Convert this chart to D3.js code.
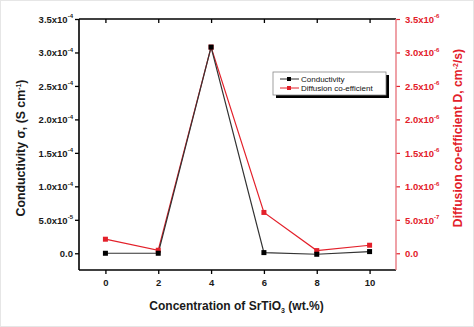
<!DOCTYPE html>
<html><head><meta charset="utf-8">
<script src="https://cdn.jsdelivr.net/npm/d3@7"></script>
<style>
body{margin:0;background:#fff;}
svg{display:block;font-family:"Liberation Sans",Arial,sans-serif;font-weight:bold;}
</style></head>
<body><svg id="c" width="474" height="327"></svg>
<script>
const xValues = [0, 2, 4, 6, 8, 10];
const conductivity = [0, 0, 3.08e-4, 1e-6, -1.5e-6, 2.5e-6];
const diffusion = [2.1e-7, 4.5e-8, 3.08e-6, 6.1e-7, 4e-8, 1.2e-7];
const xTicks = [0, 2, 4, 6, 8, 10];
const leftTicks = [0, 5e-5, 1e-4, 1.5e-4, 2e-4, 2.5e-4, 3e-4, 3.5e-4];
const rightTicks = [0, 5e-7, 1e-6, 1.5e-6, 2e-6, 2.5e-6, 3e-6, 3.5e-6];
const seriesNames = ["Conductivity", "Diffusion  co-efficient"];

const RED = "#e3202a";
const svg = d3.select("#c");
const L = 79, R = 396, T = 19, B = 270;

svg.append("rect").attr("x",0.5).attr("y",0.5).attr("width",473).attr("height",326)
  .attr("fill","none").attr("stroke","#e6e6e6");

const x = d3.scaleLinear().domain([-1, 11]).range([L, R]);
const yL = d3.scaleLinear().domain([-2.5e-5, 3.5e-4]).range([B, T]);
const yR = d3.scaleLinear().domain([-2.5e-7, 3.5e-6]).range([B, T]);

function sciLabel(sel, v) {
  sel.text(null);
  if (v === 0) { sel.text("0.0"); return; }
  const e = Math.floor(Math.log10(Math.abs(v)) + 1e-9);
  const m = v / Math.pow(10, e);
  sel.append("tspan").text(m.toFixed(1) + "x10");
  sel.append("tspan").attr("dy", -4.5).attr("font-size", 6).text(e);
}

// Left axis
const gl = svg.append("g").attr("transform", `translate(${L},0)`)
  .call(d3.axisLeft(yL).tickValues(leftTicks).tickSize(4).tickFormat(""));
gl.select(".domain").remove();
gl.selectAll(".tick line").attr("stroke","#000").attr("stroke-width",1.3);
gl.selectAll(".tick").append("text").attr("x",-6).attr("dy","0.35em")
  .attr("text-anchor","end").attr("font-size",9.5).attr("fill","#1a1a1a")
  .each(function(d){ sciLabel(d3.select(this), d); });

// Right axis
const gr = svg.append("g").attr("transform", `translate(${R},0)`)
  .call(d3.axisRight(yR).tickValues(rightTicks).tickSize(4).tickFormat(""));
gr.select(".domain").remove();
gr.selectAll(".tick line").attr("stroke",RED).attr("stroke-width",1.2);
gr.selectAll(".tick").append("text").attr("x",9).attr("dy","0.35em")
  .attr("text-anchor","start").attr("font-size",9.5).attr("fill",RED)
  .each(function(d){ sciLabel(d3.select(this), d); });

// Bottom axis
const gb = svg.append("g").attr("transform", `translate(0,${B})`)
  .call(d3.axisBottom(x).tickValues(xTicks).tickSize(4).tickFormat(d3.format("d")));
gb.select(".domain").remove();
gb.selectAll(".tick line").attr("stroke","#000").attr("stroke-width",1.3);
gb.selectAll(".tick text").attr("y",9).attr("font-size",9.5).attr("fill","#1a1a1a")
  .attr("font-family","Liberation Sans, Arial, sans-serif").attr("font-weight","bold");

// Top ticks (inward)
const gt = svg.append("g").attr("transform", `translate(0,${T})`)
  .call(d3.axisTop(x).tickValues(xTicks).tickSize(-4).tickFormat(""));
gt.select(".domain").remove();
gt.selectAll(".tick line").attr("stroke","#000").attr("stroke-width",1.3);

// Frame
svg.append("line").attr("x1",L).attr("x2",R).attr("y1",T).attr("y2",T).attr("stroke","#000").attr("stroke-width",1.6);
svg.append("line").attr("x1",L).attr("x2",R).attr("y1",B).attr("y2",B).attr("stroke","#000").attr("stroke-width",1.6);
svg.append("line").attr("x1",L).attr("x2",L).attr("y1",T).attr("y2",B).attr("stroke","#000").attr("stroke-width",1.6);
svg.append("line").attr("x1",R).attr("x2",R).attr("y1",T).attr("y2",B).attr("stroke","#e87a82").attr("stroke-width",1.4);

// Series
const pts1 = xValues.map((v,i)=>[x(v), yL(conductivity[i])]);
const pts2 = xValues.map((v,i)=>[x(v), yR(diffusion[i])]);
const line = d3.line();
svg.append("path").attr("d", line(pts2)).attr("fill","none").attr("stroke",RED).attr("stroke-width",1.2);
svg.append("path").attr("d", line(pts1)).attr("fill","none").attr("stroke","#333").attr("stroke-width",1.2);
svg.selectAll(".m2").data(pts2).enter().append("rect")
  .attr("x",d=>d[0]-2.5).attr("y",d=>d[1]-2.5).attr("width",5).attr("height",5).attr("fill",RED);
svg.selectAll(".m1").data(pts1).enter().append("rect")
  .attr("x",d=>d[0]-2.5).attr("y",d=>d[1]-2.5).attr("width",5).attr("height",5).attr("fill","#000");

// Axis titles
const xt = svg.append("text").attr("x",(L+R)/2-1).attr("y",310).attr("text-anchor","middle")
  .attr("font-size",12).attr("fill","#1a1a1a");
xt.append("tspan").text("Concentration of SrTiO");
xt.append("tspan").attr("dy",3).attr("font-size",7).text("3");
xt.append("tspan").attr("dy",-3).text(" (wt.%)");

const yt = svg.append("text").attr("transform","translate(25,148) rotate(-90)").attr("text-anchor","middle")
  .attr("font-size",12.3).attr("fill","#1a1a1a");
yt.append("tspan").text("Conductivity σ, (S cm");
yt.append("tspan").attr("dy",-4.5).attr("font-size",7).text("-1");
yt.append("tspan").attr("dy",4.5).text(")");

const rt = svg.append("text").attr("transform","translate(462,138) rotate(-90)").attr("text-anchor","middle")
  .attr("font-size",12.2).attr("fill",RED);
rt.append("tspan").text("Diffusion co-efficient D, cm");
rt.append("tspan").attr("dy",-4.5).attr("font-size",7).text("-2");
rt.append("tspan").attr("dy",4.5).text("/s)");

// Legend
const lg = svg.append("g").attr("transform","translate(273,72)");
lg.append("rect").attr("x",3).attr("y",3).attr("width",113).attr("height",23).attr("fill","#000");
lg.append("rect").attr("x",0).attr("y",0).attr("width",113).attr("height",23).attr("fill","#fff").attr("stroke","#888").attr("stroke-width",0.8);
const colors = ["#000", RED];
seriesNames.forEach((n,i)=>{
  const yy = 7 + i*9;
  lg.append("line").attr("x1",7).attr("x2",26).attr("y1",yy).attr("y2",yy).attr("stroke",i?RED:"#333").attr("stroke-width",1);
  lg.append("rect").attr("x",14).attr("y",yy-2).attr("width",4).attr("height",4).attr("fill",colors[i]);
  lg.append("text").attr("x",28).attr("y",yy).attr("dy","0.35em").attr("font-size",8).attr("font-weight","normal")
    .attr("fill","#111").text(n);
});
</script></body></html>
